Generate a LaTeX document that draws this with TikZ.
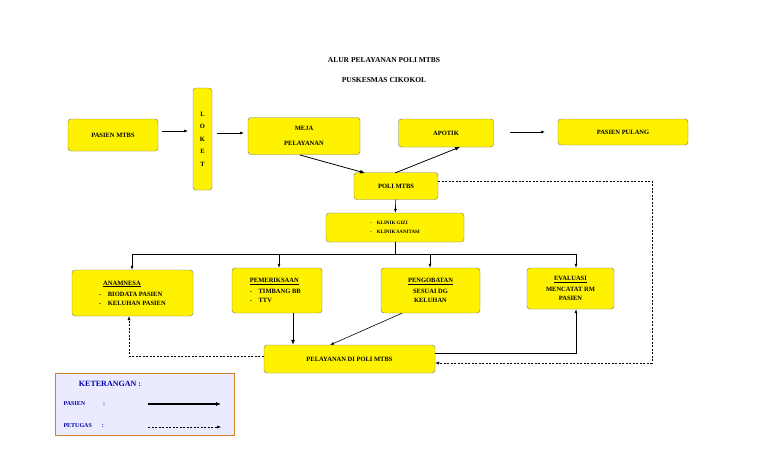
\documentclass[tikz,border=0pt]{standalone}
\usepackage{fontspec}
\setmainfont{Liberation Serif}
\usetikzlibrary{arrows.meta}
\begin{document}
\begin{tikzpicture}[x=1pt,y=-1pt,
  box/.style={draw=black!55,fill=yellow,rounded corners=3pt,inner sep=0pt,align=center,font=\fontsize{6.5}{9}\selectfont\bfseries},
  pas/.style={-{Latex[length=5pt,width=4pt]},thick},
  pasd/.style={-{Latex[length=4pt,width=3pt]},semithick},
  pet/.style={-{Latex[length=4pt,width=3pt]},dashed,dash pattern=on 2pt off 1.5pt}]
\useasboundingbox (0,0) rectangle (768,466);
\node (t1) at (384,60) {\fontsize{7.5}{9}\selectfont\bfseries ALUR PELAYANAN POLI MTBS};
\node (t2) at (384,80) {\fontsize{7.5}{9}\selectfont\bfseries PUSKESMAS CIKOKOL};
\node[box,minimum width=90,minimum height=32] (pm) at (113,135) {PASIEN MTBS};
\node[box,minimum width=19,minimum height=102,font=\fontsize{6.5}{12.5}\selectfont\bfseries] (lk) at (202.5,139) {L\\O\\K\\E\\T};
\node[box,minimum width=112,minimum height=37,font=\fontsize{6.5}{15}\selectfont\bfseries] (mp) at (304,136) {MEJA\\PELAYANAN};
\node[box,minimum width=95,minimum height=28] (ap) at (446,133) {APOTIK};
\node[box,minimum width=130,minimum height=26] (pp) at (623,132) {PASIEN PULANG};
\node[box,minimum width=84,minimum height=27] (po) at (396,186) {POLI MTBS};
\node[box,minimum width=138,minimum height=29,align=left,font=\fontsize{5}{9}\selectfont\bfseries] (kl) at (395,227.5) {-\quad KLINIK GIZI\\-\quad KLINIK SANITASI};
\node[box,minimum width=121,minimum height=46,align=left] (an) at (132.5,293) {\hspace*{4pt}\underline{ANAMNESA}\\[2pt]-\quad BIODATA PASIEN\\-\quad KELUHAN PASIEN};
\node[box,minimum width=90,minimum height=45,align=left] (pe) at (277,290.5) {\underline{PEMERIKSAAN}\\[2pt]-\quad TIMBANG BB\\-\quad TTV\hspace*{32pt}};
\node[box,minimum width=99,minimum height=45] (pg) at (430.5,290.5) {\underline{PENGOBATAN}\\[2pt]SESUAI DG\\KELUHAN};
\node[box,minimum width=87,minimum height=41] (ev) at (570.5,288.5) {\underline{EVALUASI}\\[2pt]MENCATAT RM\\PASIEN};
\node[box,minimum width=171,minimum height=28] (pd) at (349.5,359) {PELAYANAN DI POLI MTBS};
% flow arrows
\draw[pasd] (162,131) -- (188,131);
\draw[pasd] (217,133) -- (244,133);
\draw[pas] (300,155) -- (365,173);
\draw[pas] (395,173) -- (460,147);
\draw[pasd] (510,132) -- (545,132);
\draw[pasd] (po) -- (kl);
\draw[semithick] (kl.south) -- (395,254);
\draw[semithick] (132,254) -- (576,254);
\draw[pasd] (132,254) -- (an.north -| 132,0);
\draw[pasd] (279,254) -- (pe.north -| 279,0);
\draw[pasd] (430,254) -- (pg.north -| 430,0);
\draw[pasd] (576,254) -- (ev.north -| 576,0);
\draw[pas] (pe.south -| 293,0) -- (pd.north -| 293,0);
\draw[pasd] (pg.south -| 402,0) -- (330,345);
\draw[pasd] (pd.east |- 0,353) -| (ev.south -| 576,0);
\draw[pet] (po.east |- 0,181) -| (652,363) -- (pd.east |- 0,363);
\draw[pet] (pd.west |- 0,356) -| (an.south -| 129,0);
% legend
\node[draw=brown!70!orange,fill=blue!8,minimum width=179,minimum height=62,inner sep=0] (lg) at (144.5,404) {};
\node[text=blue!70!black,font=\fontsize{8}{9}\selectfont\bfseries] (kt) at (110,384) {KETERANGAN :};
\node[text=blue!70!black,font=\fontsize{6}{9}\selectfont\bfseries,anchor=west] (lp) at (60,404) {PASIEN\hspace{18pt}:};
\node[text=blue!70!black,font=\fontsize{6}{9}\selectfont\bfseries,anchor=west] (lq) at (60,426) {PETUGAS\hspace{10pt}:};
\coordinate (a1) at (148,404); \coordinate (a2) at (221,404);
\draw[pas,line width=1.3pt] (a1) -- (a2);
\coordinate (b1) at (148,427); \coordinate (b2) at (221,427);
\draw[pet] (b1) -- (b2);
\end{tikzpicture}
\end{document}
